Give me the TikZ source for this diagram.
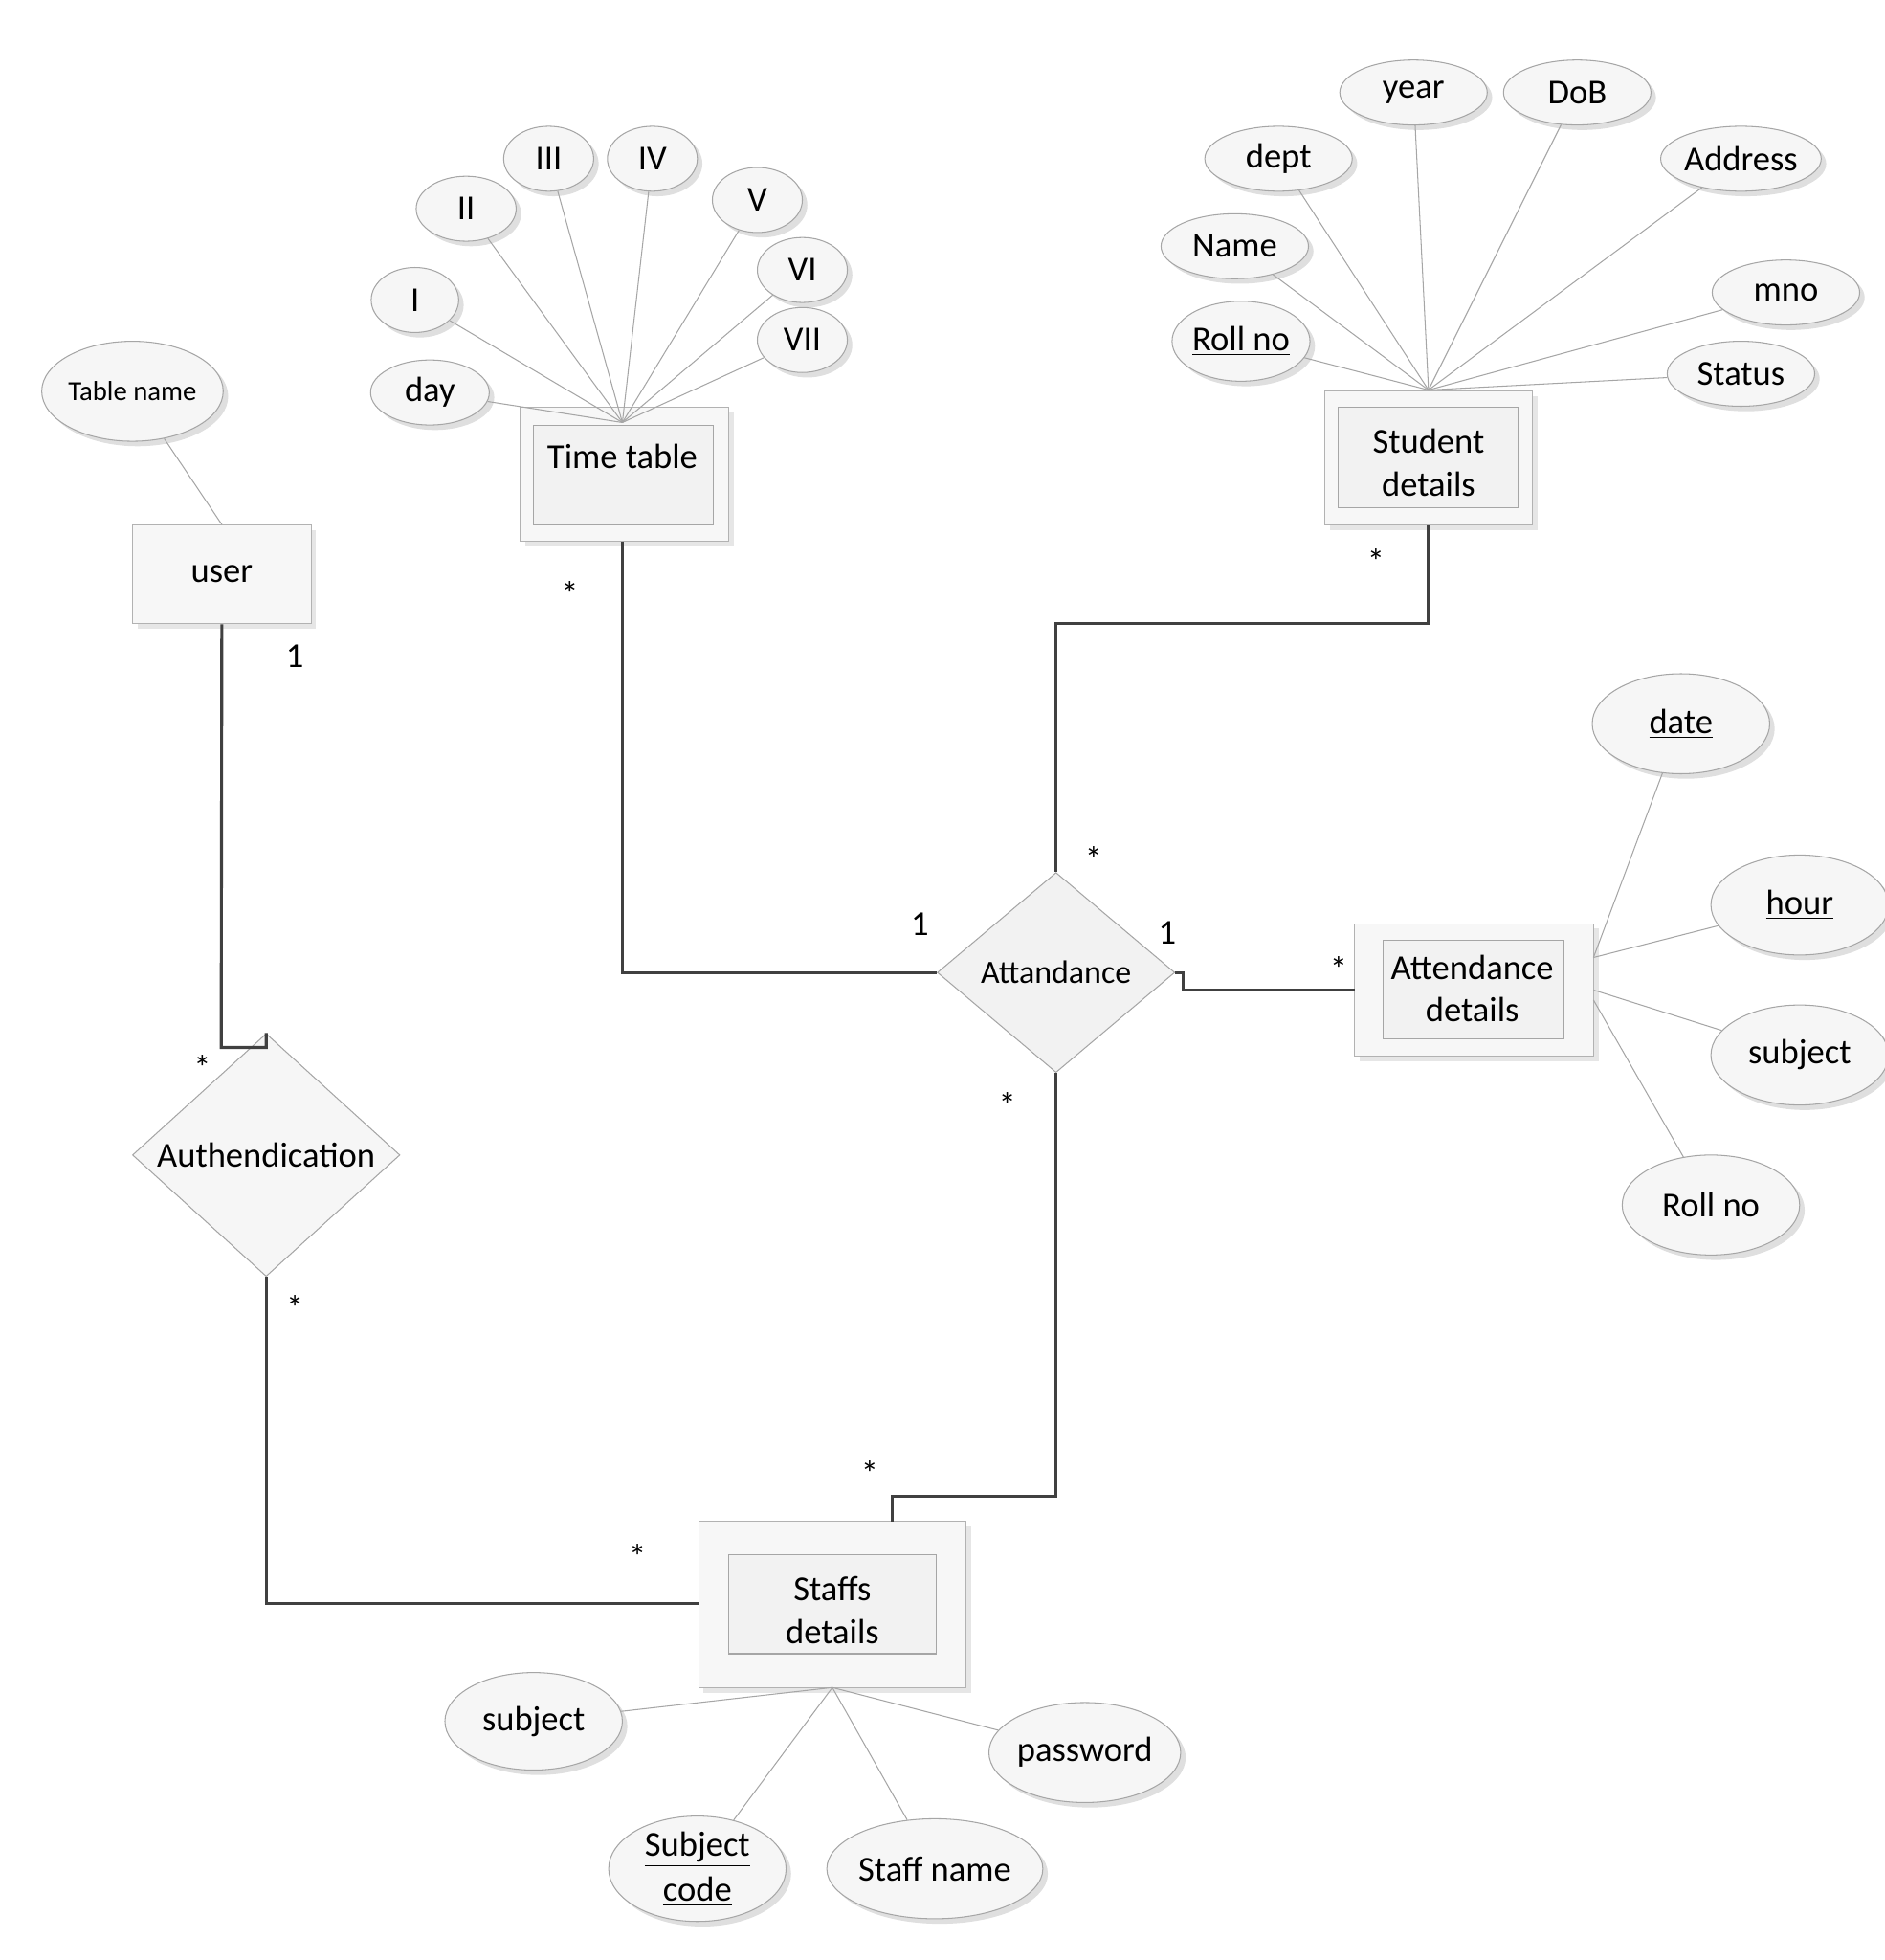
\documentclass[tikz,border=0pt]{standalone}
\usepackage{fontspec}
\setmainfont{Carlito}
\usetikzlibrary{shapes.geometric,shadows}
\begin{document}
\begin{tikzpicture}[x=0.5pt,y=-0.5pt,
  attr/.style={ellipse,draw=gray!70,fill=gray!7,drop shadow={opacity=0.25,shadow xshift=2pt,shadow yshift=-2pt},minimum width=#1*0.5pt,minimum height=26pt,inner sep=0pt,font=\fontsize{14}{16}\selectfont},
  attr/.default=118,
  outerbox/.style={draw=gray!60,fill=gray!6,drop shadow={opacity=0.2,shadow xshift=2pt,shadow yshift=-2pt}},
  innerbox/.style={draw=gray!70,fill=gray!10},
  thin/.style={draw=gray!70,line width=0.4pt},
  conn/.style={draw=black!75,line width=1.2pt},
  lab/.style={font=\fontsize{14}{16}\selectfont},
  txt/.style={font=\fontsize{14}{17}\selectfont,align=center}]
\useasboundingbox (0,0) rectangle (1508,1568);
% Time table
\draw[outerbox] (416,326) rectangle (583,433);
\draw[innerbox] (427,340) rectangle (571,420);
\node[txt] (tt) at (498,365) {Time table};
\coordinate (ttc) at (498,338);
\coordinate (ttb) at (498,433);
\node[attr=70] (a1) at (332,240) {I};
\node[attr=80] (a2) at (373,167) {II};
\node[attr=72] (a3) at (439,127) {III};
\node[attr=72] (a4) at (522,127) {IV};
\node[attr=72] (a5) at (606,160) {V};
\node[attr=72] (a6) at (642,216) {VI};
\node[attr=72] (a7) at (642,272) {VII};
\node[attr=95] (a8) at (344,314) {day};
\foreach \a in {a1,a2,a3,a4,a5,a6,a7,a8} \draw[thin] (\a) -- (ttc);
% user
\node[outerbox,minimum width=71.5pt,minimum height=39.5pt,txt] (user) at (177.5,459.5) {user};
\node[attr=145,minimum height=40pt,font=\fontsize{11}{13}\selectfont] (tn) at (106,313) {Table name};
\draw[thin] (tn) -- (user.north);
% Student details
\draw[outerbox] (1060,313) rectangle (1226,420);
\draw[innerbox] (1071,326) rectangle (1215,406);
\node[txt] (sd) at (1143,370) {Student\\details};
\coordinate (sdc) at (1143,312);
\coordinate (sdb) at (1143,420);
\node[attr] (s1) at (1023,127) {dept};
\node[attr] (s2) at (1131,74) {year};
\node[attr] (s3) at (1262,74) {DoB};
\node[attr] (s4) at (1393,127) {Address};
\node[attr] (s5) at (988,197) {Name};
\node[attr] (s6) at (1429,234) {mno};
\node[attr=108,minimum height=32pt] (s7) at (993,273) {\underline{Roll no}};
\node[attr] (s8) at (1393,299) {Status};
\foreach \a in {s1,s2,s3,s4,s5,s6,s7,s8} \draw[thin] (\a) -- (sdc);
% Attandance
\node[diamond,draw=gray!70,fill=gray!10,minimum width=95pt,minimum height=80pt,inner sep=0pt,font=\fontsize{13}{15}\selectfont] (att) at (845,778) {Attandance};
% Attendance details
\draw[outerbox] (1084,739) rectangle (1275,845);
\draw[innerbox] (1107,752) rectangle (1251,831);
\node[txt] (ad) at (1178,791) {Attendance\\details};
\node[attr=142,minimum height=40pt] (d1) at (1345,579) {\underline{date}};
\node[attr=142,minimum height=40pt] (d2) at (1440,724) {\underline{hour}};
\node[attr=142,minimum height=40pt] (d3) at (1440,844) {subject};
\node[attr=142,minimum height=40pt] (d4) at (1369,964) {Roll no};
\coordinate (ad1) at (1275,766);
\coordinate (ad2) at (1275,792);
\coordinate (ad3) at (1275,800);
\coordinate (ad4) at (1084,792);
\draw[thin] (ad1) -- (d1); \draw[thin] (ad1) -- (d2);
\draw[thin] (ad2) -- (d3); \draw[thin] (ad3) -- (d4);
% Authendication
\node[diamond,draw=gray!70,fill=gray!7,minimum width=107pt,minimum height=66pt,inner sep=0pt,font=\fontsize{14}{16}\selectfont] (auth) at (213,924) {Authendication};
% Staffs details
\draw[outerbox] (559,1217) rectangle (773,1350);
\draw[innerbox] (583,1244) rectangle (749,1323);
\node[txt] (st) at (666,1288) {Staffs\\details};
\coordinate (stc) at (666,1350);
\coordinate (stl) at (559,1283);
\coordinate (stt) at (714,1217);
\node[attr=142,minimum height=39pt] (f1) at (427,1377) {subject};
\node[attr=142,minimum height=40pt,align=center,font=\fontsize{14}{18}\selectfont] (f2) at (558,1495) {\underline{Subject}\\\underline{code}};
\node[attr=142,minimum height=40pt] (f3) at (748,1495) {Staff name};
\node[attr=142,minimum height=40pt] (f4) at (868,1402) {password};
\foreach \a in {f1,f2,f3,f4} \draw[thin] (stc) -- (\a);
% connectors
\draw[conn] (user.south) -- (177,838) -- (213,838) -- (auth.north);
\draw[conn] (auth.south) -- (213,1283) -- (stl);
\draw[conn] (ttb) -- (498,778) -- (att.west);
\draw[conn] (att.north) -- (845,499) -- (1143,499) -- (sdb);
\draw[conn] (att.east) -- (947,778) -- (947,792) -- (ad4);
\draw[conn] (att.south) -- (845,1197) -- (714,1197) -- (stt);
% labels
\node[lab] (l1) at (236,525) {1};
\node[lab] (l2) at (456,475) {*};
\node[lab] (l3) at (1101,449) {*};
\node[lab] (l4) at (875,687) {*};
\node[lab] (l5) at (736,739) {1};
\node[lab] (l6) at (934,746) {1};
\node[lab] (l7) at (1071,775) {*};
\node[lab] (l8) at (162,854) {*};
\node[lab] (l9) at (806,884) {*};
\node[lab] (l10) at (236,1046) {*};
\node[lab] (l11) at (696,1179) {*};
\node[lab] (l12) at (510,1245) {*};
\end{tikzpicture}
\end{document}
